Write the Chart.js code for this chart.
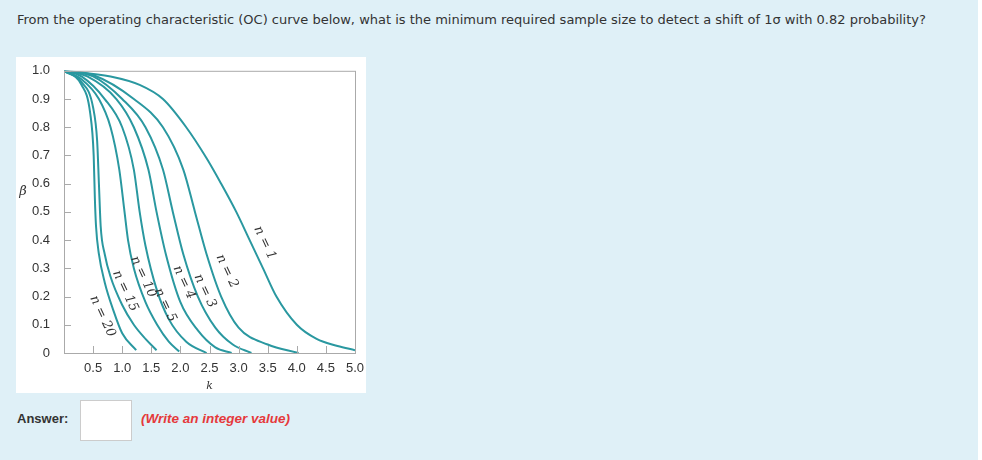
<!DOCTYPE html>
<html><head><meta charset="utf-8">
<script src="https://cdn.jsdelivr.net/npm/chart.js@4"></script>
<style>
html,body{margin:0;padding:0;}
body{width:982px;height:460px;background:#fff;position:relative;overflow:hidden;font-family:"DejaVu Sans",sans-serif;}
#page{position:absolute;left:0;top:0;width:978px;height:460px;background:#dff0f7;}
#q{position:absolute;left:17px;top:9px;width:930px;font-size:13px;line-height:22px;color:#333;}
#box{position:absolute;left:16px;top:57px;width:350px;height:336px;background:#fff;}
#ans{position:absolute;left:17px;top:411px;font-size:13px;font-weight:bold;color:#333;font-family:"Liberation Sans",Arial,sans-serif;}
#inp{position:absolute;left:80px;top:400px;width:50px;height:39px;background:#fff;border:1px solid #ccc;}
#hint{position:absolute;left:141px;top:411px;font-size:13.5px;font-weight:bold;font-style:italic;color:#e5393b;font-family:"Liberation Sans",Arial,sans-serif;}
</style></head><body>
<div id="page">
<div id="q">From the operating characteristic (OC) curve below, what is the minimum required sample size to detect a shift of 1σ with 0.82 probability?</div>
<div id="box"><canvas id="c" width="350" height="336"></canvas></div>
<div id="ans">Answer:</div><div id="inp"></div>
<div id="hint">(Write an integer value)</div>
</div>
<script>
const xTicks=[0.5,1.0,1.5,2.0,2.5,3.0,3.5,4.0,4.5,5.0];
const yTicks=[0,0.1,0.2,0.3,0.4,0.5,0.6,0.7,0.8,0.9,1.0];
const seriesNames=["n = 1","n = 2","n = 3","n = 4","n = 5","n = 10","n = 15","n = 20"];
const kN1=[0,0.8,1.3,1.7,2.1,2.45,2.7,2.96,3.19,3.42,3.65,4.0,4.34,4.7,5.0];
const bN1=[1,0.98,0.95,0.9,0.8,0.69,0.6,0.5,0.4,0.3,0.2,0.1,0.05,0.025,0.01];
const kN2=[0,0.5,1.2,1.7,2.05,2.25,2.45,2.7,3.0,3.5,4.03];
const bN2=[1,0.985,0.9,0.8,0.65,0.5,0.35,0.2,0.09,0.03,0.0];
const kN3=[0,0.5,1.0,1.4,1.7,1.87,2.05,2.3,2.6,2.9,3.22];
const bN3=[1,0.98,0.9,0.8,0.65,0.5,0.35,0.2,0.09,0.03,0.0];
const kN4=[0,0.4,0.9,1.2,1.45,1.59,1.75,2.0,2.3,2.6,2.88];
const bN4=[1,0.98,0.9,0.8,0.65,0.5,0.35,0.18,0.08,0.02,0.0];
const kN5=[0,0.3,0.7,1.0,1.2,1.3,1.4,1.6,1.8,2.1,2.45];
const bN5=[1,0.98,0.9,0.8,0.65,0.5,0.38,0.22,0.12,0.04,0.0];
const kN10=[0,0.3,0.6,0.8,0.95,1.04,1.1,1.2,1.4,1.6,1.8,1.98];
const bN10=[1,0.97,0.9,0.8,0.65,0.5,0.4,0.3,0.18,0.1,0.04,0.005];
const kN15=[0,0.3,0.5,0.57,0.6,0.63,0.7,0.8,1.0,1.2,1.4,1.59];
const bN15=[1,0.96,0.87,0.75,0.6,0.45,0.35,0.27,0.17,0.1,0.05,0.01];
const kN20=[0,0.3,0.45,0.51,0.53,0.55,0.6,0.7,0.85,1.0,1.24];
const bN20=[1,0.95,0.85,0.7,0.55,0.45,0.35,0.25,0.15,0.07,0.01];
const labelK=[3.45,2.8,2.42,2.06,1.74,1.36,1.05,0.66];
const labelB=[0.39,0.29,0.22,0.25,0.17,0.27,0.22,0.13];
const allK=[kN1,kN2,kN3,kN4,kN5,kN10,kN15,kN20];
const allB=[bN1,bN2,bN3,bN4,bN5,bN10,bN15,bN20];
const col='#2a98a0';
const datasets=allK.map((ks,i)=>({label:seriesNames[i],data:ks.map((k,j)=>({x:k,y:allB[i][j]})),showLine:true,borderColor:col,borderWidth:2,pointRadius:0,tension:0.4,cubicInterpolationMode:'monotone',fill:false}));
const deco={id:'deco',afterDraw(ch){
 const c=ch.ctx,a=ch.chartArea,xs=ch.scales.x,ys=ch.scales.y;
 c.save();c.strokeStyle='#aaa';c.lineWidth=1;
 c.strokeRect(a.left+0.5,a.top+0.5,a.right-a.left,a.bottom-a.top);
 c.beginPath();
 yTicks.forEach(v=>{const y=Math.round(ys.getPixelForValue(v))+0.5;c.moveTo(a.left,y);c.lineTo(a.left+7,y);});
 xTicks.forEach(v=>{const x=Math.round(xs.getPixelForValue(v))+0.5;c.moveTo(x,a.bottom);c.lineTo(x,a.bottom-7);});
 c.stroke();
 c.fillStyle='#333';c.font='italic 13px "DejaVu Serif",serif';c.textAlign='center';c.textBaseline='middle';
 seriesNames.forEach((s,i)=>{c.save();c.translate(xs.getPixelForValue(labelK[i]),ys.getPixelForValue(labelB[i]));c.rotate(Math.PI*0.36);c.fillText(s,0,0);c.restore();});
 c.font='italic 13px "DejaVu Serif",serif';c.fillText('β',7,135);
 c.restore();
}};
new Chart(document.getElementById('c'),{type:'scatter',data:{datasets},plugins:[deco],
 options:{responsive:false,animation:false,layout:{padding:{left:0,right:11,top:3,bottom:0}},
 plugins:{legend:{display:false},tooltip:{enabled:false}},
 scales:{
  x:{type:'linear',min:0,max:5,afterBuildTicks:s=>{s.ticks=xTicks.map(v=>({value:v}));},
     afterFit:s=>{s.height=40;},
     grid:{display:false},border:{display:false},
     ticks:{color:'#333',font:{family:'"Liberation Sans",Arial',size:13},padding:0,maxRotation:0,callback:v=>v.toFixed(1)},
     title:{display:true,text:'k',color:'#333',font:{family:'"DejaVu Serif",serif',style:'italic',size:11},padding:{top:5,bottom:0}}},
  y:{type:'linear',min:0,max:1,afterBuildTicks:s=>{s.ticks=yTicks.map(v=>({value:v}));},
     afterFit:s=>{s.width=48;},
     grid:{display:false},border:{display:false},
     ticks:{color:'#333',font:{family:'"Liberation Sans",Arial',size:13},padding:6,callback:v=>v===0?'0':v.toFixed(1)}}
 }}});
</script></body></html>
